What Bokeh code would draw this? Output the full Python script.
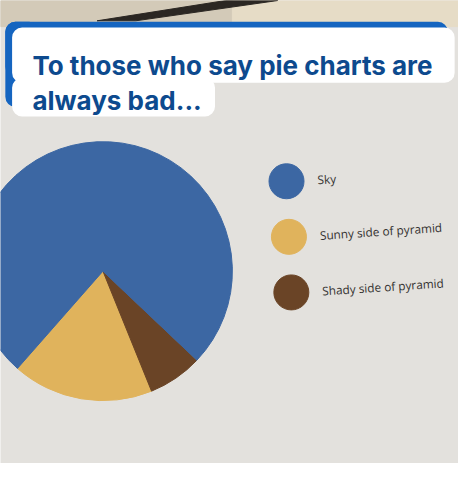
from math import pi

from bokeh.core.properties import value
from bokeh.embed import file_html
from bokeh.models import BoxAnnotation, ColumnDataSource, Label, Range1d
from bokeh.plotting import figure
from bokeh.resources import INLINE

# data
labels = ["Sunny side of pyramid", "Shady side of pyramid", "Sky"]
values = [17.6, 6.8, 75.6]
colors = ["#e0b35c", "#6a4426", "#3c67a3"]
legend_order = ["Sky", "Sunny side of pyramid", "Shady side of pyramid"]
caption = ["To those who say pie charts are", "always bad..."]

# whole photo drawn in its own pixel coords, y flipped (y = 479 - row)
p = figure(width=458, height=463, x_range=Range1d(0, 474), y_range=Range1d(0, 479),
           output_backend="svg", toolbar_location=None, min_border=0)
p.axis.visible = False
p.grid.visible = False
p.outline_line_color = None
p.background_fill_color = "#e3e1dd"
p.border_fill_color = "#e3e1dd"

# bit of monitor / desk at the top of the photo
p.patch([0, 240, 240, 0], [452, 452, 479, 479], color="#d3cab8")
p.patch([240, 474, 474, 240], [452, 452, 479, 479], color="#e6dcc6")
p.patch([100, 140, 287, 233], [458, 458, 479, 479], color="#2b2723")

# pie, starting at the sky/sunny boundary
total = sum(values)
start = 228.7 * pi / 180
starts, ends = [], []
for v in values:
    starts.append(start)
    start += v / total * 2 * pi
    ends.append(start)
pie = ColumnDataSource(dict(start=starts, end=ends, color=colors, label=labels))
p.wedge(x=106, y=199, radius=134, start_angle="start", end_angle="end",
        color="color", source=pie)

# legend
lx = [296 + 2.5 * i for i in range(len(legend_order))]
ly = [292 - 57.5 * i for i in range(len(legend_order))]
lc = [colors[labels.index(n)] for n in legend_order]
p.scatter(lx, ly, size=35, color=lc)
p.text([x + 32 for x in lx], [y + 2 for y in ly], text=legend_order, angle=0.066,
       text_font=value("Open Sans"), text_font_size="11.8px", text_color="#333130",
       text_baseline="middle")

# caption box
p.add_layout(BoxAnnotation(left=5, right=463, top=457, bottom=400, border_radius=10,
                           fill_color="#1565c0", fill_alpha=1, line_color=None))
p.add_layout(BoxAnnotation(left=5, right=40, top=457, bottom=369, border_radius=10,
                           fill_color="#1565c0", fill_alpha=1, line_color=None))
p.add_layout(BoxAnnotation(left=12, right=470, top=451, bottom=394, border_radius=10,
                           fill_color="white", fill_alpha=1, line_color=None))
p.add_layout(BoxAnnotation(left=12, right=222, top=399, bottom=359, border_radius=10,
                           fill_color="white", fill_alpha=1, line_color=None))
for i, line in enumerate(caption):
    p.add_layout(Label(x=33, y=412 - 36 * i, text=line, text_font="Inter",
                       text_font_style="bold", text_font_size="26px",
                       text_color="#0d4a8e", text_baseline="alphabetic"))

open("out.html", "w").write(file_html(p, INLINE))
